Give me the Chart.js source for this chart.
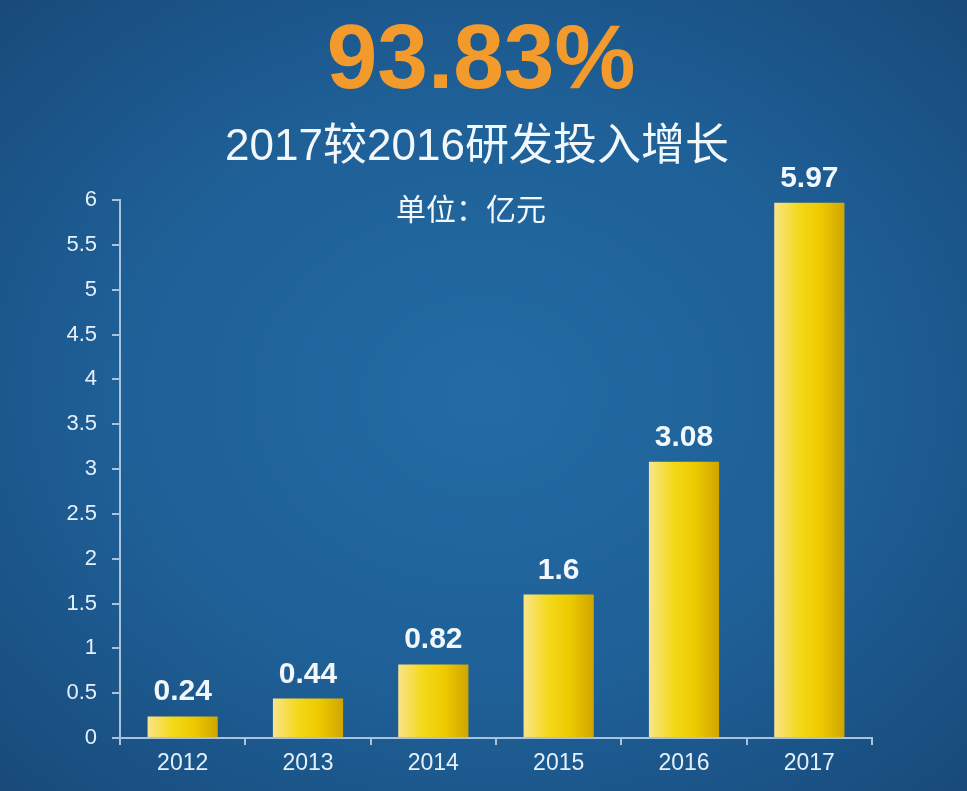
<!DOCTYPE html>
<html>
<head>
<meta charset="utf-8">
<script src="https://cdn.jsdelivr.net/npm/chart.js@4.4.0/dist/chart.umd.min.js"></script>
<style>
  html, body { margin: 0; padding: 0; }
  body {
    width: 967px; height: 791px; overflow: hidden;
    background: radial-gradient(ellipse at 50% 50%, #236ca4 0%, #1e5f96 55%, #184a7a 100%);
  }
  canvas { display: block; }
</style>
</head>
<body>
<canvas id="chart" width="967" height="791"></canvas>
<script>
// data
const years = ['2012', '2013', '2014', '2015', '2016', '2017'];
const investment = [0.24, 0.44, 0.82, 1.6, 3.08, 5.97];
const valueLabels = ['0.24', '0.44', '0.82', '1.6', '3.08', '5.97'];
const yMin = 0, yMax = 6, yStep = 0.5;

const headline = '93.83%';
const subtitle = '2017较2016研发投入增长';
const unitText = '单位：亿元';

const axisColor = '#a9c3dd';
const textColor = '#e6f0fa';
const barShare = 0.56;

// title texts + value labels above the bars
const textPlugin = {
    id: 'texts',
    afterDatasetsDraw(chart) {
        const c = chart.ctx;
        c.save();
        c.textAlign = 'center';
        c.textBaseline = 'alphabetic';

        c.fillStyle = '#f39a2c';
        c.font = 'bold 91px "Liberation Sans", Arial, sans-serif';
        c.fillText(headline, 481, 88);

        c.fillStyle = '#f2f7fc';
        c.font = '44px "Liberation Sans", "Noto Sans CJK SC", sans-serif';
        c.fillText(subtitle, 477, 160);

        c.font = '30px "Noto Sans CJK SC", sans-serif';
        c.fillText(unitText, 471, 220);

        // value on top of every bar
        c.font = 'bold 30px "Liberation Sans", Arial, sans-serif';
        chart.getDatasetMeta(0).data.forEach((bar, i) => {
            c.fillText(valueLabels[i], bar.x, bar.y - 16);
        });
        c.restore();
    }
};

function barGradient(context) {
    const chart = context.chart;
    const x = chart.scales.x;
    if (!x || !x.width) return '#f2d300';
    const cx = x.getPixelForValue(context.dataIndex);
    const w = (x.width / years.length) * barShare;
    const g = chart.ctx.createLinearGradient(cx - w / 2, 0, cx + w / 2, 0);
    g.addColorStop(0, '#f9e58a');
    g.addColorStop(0.35, '#f4d81a');
    g.addColorStop(0.65, '#eecb00');
    g.addColorStop(1, '#cfa500');
    return g;
}

new Chart(document.getElementById('chart'), {
    type: 'bar',
    data: {
        labels: years,
        datasets: [{
            data: investment,
            backgroundColor: barGradient,
            borderWidth: 0,
            barPercentage: barShare,
            categoryPercentage: 1
        }]
    },
    options: {
        responsive: false,
        animation: false,
        layout: { padding: { left: 0, right: 95, top: 200, bottom: 0 } },
        plugins: {
            legend: { display: false },
            tooltip: { enabled: false }
        },
        scales: {
            x: {
                grid: { drawOnChartArea: false, drawTicks: true, tickLength: 7, color: axisColor, lineWidth: 2 },
                border: { color: axisColor, width: 2 },
                ticks: {
                    color: textColor, padding: 5,
                    font: { size: 23, family: '"Liberation Sans", Arial, sans-serif' }
                },
                afterFit(scale) { scale.height = 53; }
            },
            y: {
                min: yMin,
                max: yMax,
                grid: { drawOnChartArea: false, drawTicks: true, tickLength: 8, color: axisColor, lineWidth: 2 },
                border: { color: axisColor, width: 2 },
                ticks: {
                    stepSize: yStep, color: textColor, padding: 15,
                    font: { size: 22, family: '"Liberation Sans", Arial, sans-serif' },
                    callback: v => String(v)
                },
                afterFit(scale) { scale.width = 120; }
            }
        }
    },
    plugins: [textPlugin]
});
</script>
</body>
</html>
